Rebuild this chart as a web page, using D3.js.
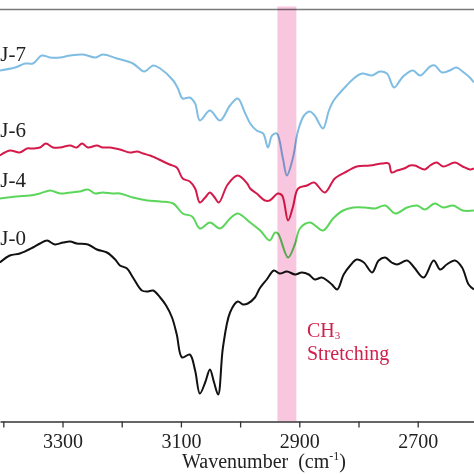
<!DOCTYPE html>
<html>
<head>
<meta charset="utf-8">
<script src="https://cdn.jsdelivr.net/npm/d3@7"></script>
<style>
  html, body { margin: 0; padding: 0; background: #fff; }
  svg { display: block; }
  text { font-family: "Liberation Serif", "Times New Roman", serif; }
</style>
</head>
<body>
<svg id="chart" width="474" height="474"></svg>
<script>
// ---- Data (wavenumber in cm^-1, signal in arbitrary units, offset per sample) ----
const seriesNames = ["J-7", "J-6", "J-4", "J-0"];
const seriesColors = ["#7fbde2", "#d41a4a", "#5bd65b", "#111111"];

const j7Wavenumber = [3406,3380,3363,3350,3335,3321,3304,3287,3265,3245,3232,3208,3181,3162,3147,3135,3113,3105,3097,3085,3076,3068,3051,3034,3017,3004,2992,2983,2972,2961,2953,2946,2938,2928,2921,2911,2902,2892,2882,2874,2860,2850,2842,2831,2820,2808,2794,2777,2764,2752,2740,2730,2723,2708,2696,2679,2671,2659,2646,2635,2622,2612,2605];
const j7Signal = [351,354,358,358,366,364,364,366,367,364,367,363,358,350,356,353,341,333,323,324,318,301,311,301,316,323,309,298,291,288,274,286,288,264,246,263,291,306,310,306,293,311,321,329,336,343,348,346,350,348,334,341,346,351,346,355,356,349,351,354,349,344,339];

const j6Wavenumber = [3406,3389,3372,3360,3350,3338,3328,3316,3304,3287,3276,3267,3257,3242,3232,3220,3203,3186,3174,3164,3152,3144,3130,3119,3107,3097,3085,3076,3068,3059,3051,3043,3036,3021,3004,2988,2983,2972,2958,2950,2936,2929,2919,2911,2902,2887,2875,2857,2840,2820,2803,2781,2760,2749,2744,2735,2723,2713,2705,2688,2679,2668,2657,2637,2624,2612,2605];
const j6Signal = [266,271,269,273,273,274,278,274,274,276,274,278,274,276,274,274,272,269,270,268,266,264,260,257,254,243,240,233,219,224,229,224,219,237,246,238,233,228,221,221,228,226,201,214,233,236,239,229,243,250,255,256,258,258,249,251,253,256,256,252,256,259,255,259,255,252,253];

const j4Wavenumber = [3406,3377,3355,3338,3321,3304,3287,3271,3257,3245,3232,3216,3203,3181,3157,3135,3113,3097,3081,3068,3051,3034,3017,3004,2983,2966,2950,2941,2936,2919,2907,2899,2882,2860,2843,2826,2809,2789,2772,2755,2738,2718,2701,2688,2671,2657,2640,2624,2605];
const j4Signal = [223,225,226,228,231,228,229,230,232,228,229,228,228,224,221,220,218,208,205,193,199,193,203,208,199,191,181,189,188,164,178,193,199,191,203,211,214,214,213,216,208,214,216,212,218,214,216,211,211];

const j0Wavenumber = [3406,3389,3372,3350,3338,3326,3313,3299,3287,3276,3257,3242,3225,3211,3203,3191,3181,3166,3157,3147,3135,3125,3115,3107,3098,3085,3076,3068,3059,3051,3044,3037,3029,3017,3004,2995,2987,2975,2967,2955,2943,2933,2921,2907,2896,2884,2874,2862,2853,2845,2836,2825,2814,2803,2791,2777,2766,2755,2744,2735,2718,2706,2690,2673,2662,2651,2637,2625,2614,2605];
const j0Signal = [159,166,168,174,178,181,177,179,180,178,177,172,169,162,156,153,144,131,130,131,124,116,104,87,64,67,51,28,39,52,39,27,74,109,120,117,118,124,133,142,151,148,150,147,149,147,142,144,141,137,132,147,156,162,159,149,161,164,159,157,161,154,144,161,152,157,161,154,137,132];

const tickValues = [3400, 3300, 3200, 3100, 3000, 2900, 2800, 2700, 2600];
const labelledTicks = [3300, 3100, 2900, 2700];
const bandRange = [2937, 2905];
const axisTitle = "Wavenumber";
const annotationLines = ["CH", "Stretching"];

// ---- Drawing ----
const W = 474, H = 474;
const svg = d3.select("#chart");
svg.append("rect").attr("width", W).attr("height", H).attr("fill", "#fff");

const x = d3.scaleLinear().domain([3405.6, 2604.9]).range([0, 474]);
const y = d3.scaleLinear().domain([0, 412]).range([421.5, 9.5]);

const series = [
  { name: seriesNames[0], color: seriesColors[0], wn: j7Wavenumber, val: j7Signal, labelY: 61 },
  { name: seriesNames[1], color: seriesColors[1], wn: j6Wavenumber, val: j6Signal, labelY: 137 },
  { name: seriesNames[2], color: seriesColors[2], wn: j4Wavenumber, val: j4Signal, labelY: 187 },
  { name: seriesNames[3], color: seriesColors[3], wn: j0Wavenumber, val: j0Signal, labelY: 245 }
];

// top frame line
svg.append("line")
  .attr("x1", 0).attr("x2", W)
  .attr("y1", y(412)).attr("y2", y(412))
  .attr("stroke", "#7a7a7a").attr("stroke-width", 1.5);

// curves
const line = d3.line()
  .x(d => x(d[0]))
  .y(d => y(d[1]))
  .curve(d3.curveCatmullRom.alpha(0.5));

series.forEach(s => {
  const pts = s.wn.map((w, i) => [w, s.val[i]]);
  svg.append("path")
    .datum(pts)
    .attr("d", line)
    .attr("fill", "none")
    .attr("stroke", s.color)
    .attr("stroke-width", 2)
    .attr("stroke-linejoin", "round");
  svg.append("text")
    .attr("x", 26).attr("y", s.labelY)
    .attr("text-anchor", "end")
    .attr("font-size", 21)
    .attr("fill", "#222")
    .text(s.name);
});

// pink highlight band (multiplied over curves)
svg.append("rect")
  .attr("x", x(bandRange[0]))
  .attr("width", x(bandRange[1]) - x(bandRange[0]))
  .attr("y", 6.5)
  .attr("height", y(0) - 6.5)
  .attr("fill", "#f8c6df")
  .style("mix-blend-mode", "multiply");

// x axis
const axis = d3.axisBottom(x)
  .tickValues(tickValues)
  .tickSize(6)
  .tickSizeOuter(0)
  .tickPadding(6)
  .tickFormat(d => labelledTicks.includes(d) ? String(d) : "");
const gx = svg.append("g").attr("transform", `translate(0,${y(0)})`).call(axis);
gx.select(".domain").attr("stroke", "#333").attr("stroke-width", 1.3);
gx.selectAll(".tick line").attr("stroke", "#333").attr("stroke-width", 1.3);
gx.selectAll(".tick text")
  .attr("font-family", "'Liberation Serif', serif")
  .attr("font-size", 20)
  .attr("fill", "#222");

// axis title
const title = svg.append("text")
  .attr("x", 264).attr("y", 468)
  .attr("text-anchor", "middle")
  .attr("font-size", 20)
  .attr("fill", "#222")
  .attr("xml:space", "preserve")
  .style("white-space", "pre");
title.append("tspan").text(axisTitle + "  (cm");
title.append("tspan").attr("font-size", 12).attr("dy", -8).text("-1");
title.append("tspan").attr("dy", 8).text(")");

// annotation
const ann = svg.append("text")
  .attr("x", 307).attr("y", 337)
  .attr("font-size", 20)
  .attr("fill", "#d0204c");
ann.append("tspan").text(annotationLines[0]);
ann.append("tspan").attr("font-size", 11).attr("dy", 2).text("3");
svg.append("text")
  .attr("x", 307).attr("y", 360)
  .attr("font-size", 20)
  .attr("fill", "#d0204c")
  .text(annotationLines[1]);
</script>
</body>
</html>
